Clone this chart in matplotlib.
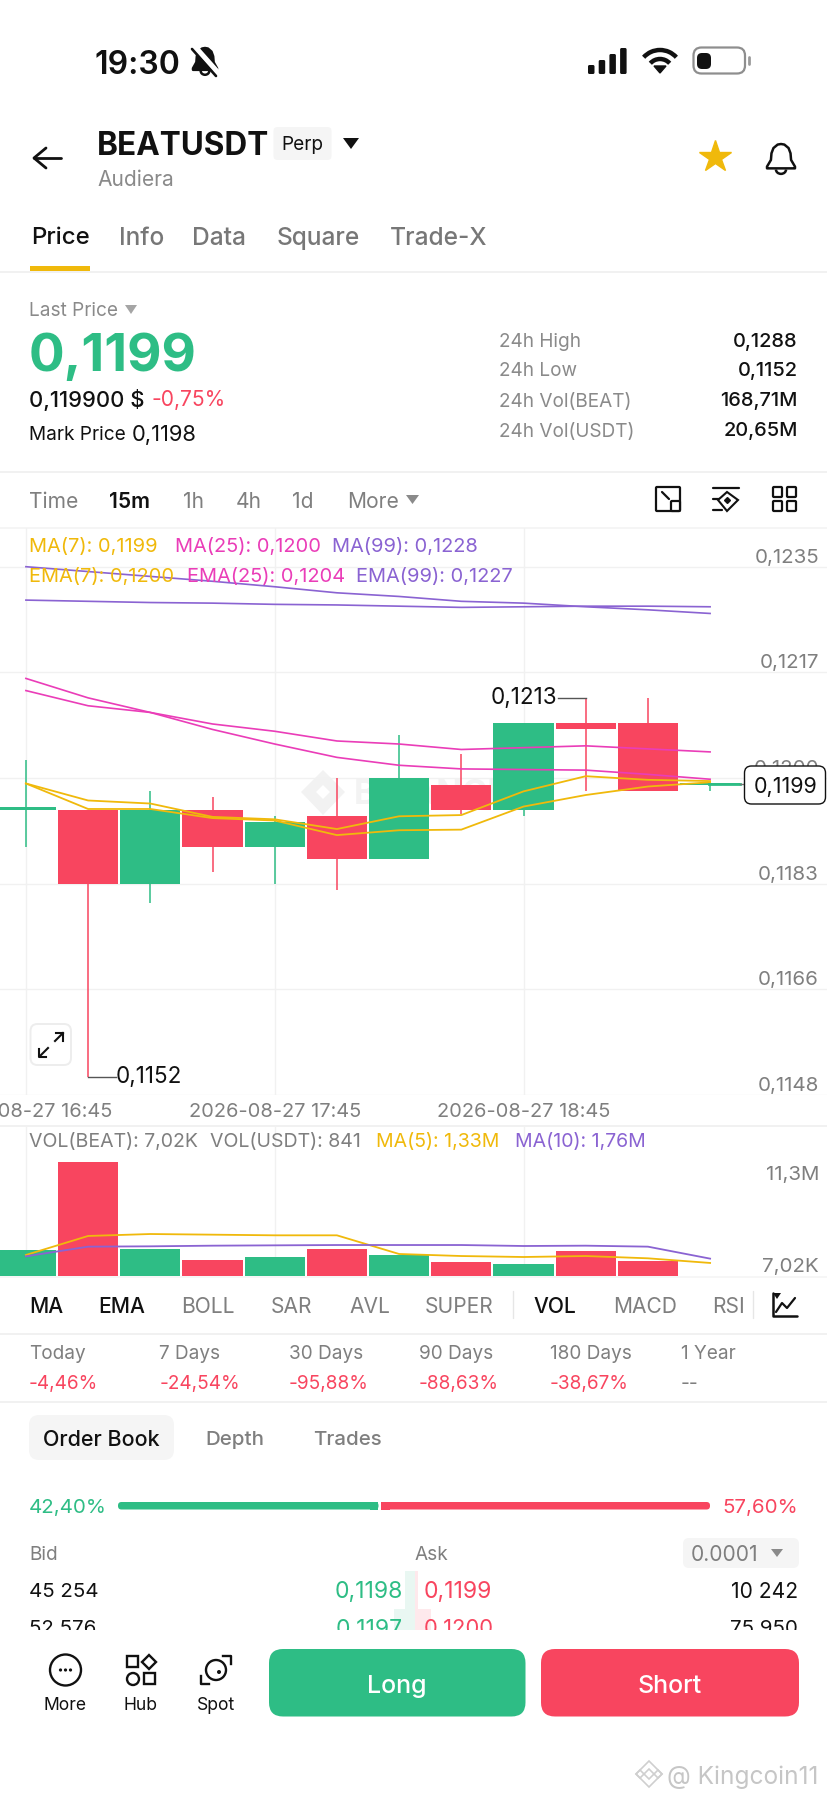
import numpy as np
import matplotlib
matplotlib.use('Agg')
import matplotlib.pyplot as plt
from matplotlib.patches import FancyBboxPatch, Polygon, Circle, Arc, Rectangle

plt.rcParams['font.family'] = ['Inter', 'Noto Sans', 'DejaVu Sans']

GREEN = '#2EBD85'
RED = '#F8455F'
YELLOW = '#F0B90B'
PINK = '#EA3DB8'
PURPLE = '#8A63D2'
GRAY = '#7F7F7F'
DARK = '#111111'
LINE = '#EFEFEF'

# candles
opens = [0.11950, 0.11950, 0.11828, 0.11950, 0.11888, 0.11940, 0.11868, 0.11991, 0.11950, 0.12093, 0.12093, 0.11990]
closes = [0.11954, 0.11828, 0.11950, 0.11888, 0.11929, 0.11868, 0.12002, 0.11950, 0.12093, 0.12083, 0.11981, 0.11994]
highs = [0.12031, 0.11950, 0.11981, 0.11970, 0.11940, 0.12002, 0.12073, 0.12041, 0.12093, 0.12134, 0.12134, 0.11994]
lows = [0.11888, 0.11510, 0.11797, 0.11847, 0.11828, 0.11817, 0.11868, 0.11942, 0.11940, 0.11981, 0.11981, 0.11981]

# overlay lines on the price panel
ma99 = [0.12350, 0.12342, 0.12334, 0.12326, 0.12317, 0.12307, 0.12301, 0.12293, 0.12290, 0.12284, 0.12279, 0.12273]
ema99 = [0.12295, 0.12293, 0.12291, 0.12290, 0.12288, 0.12287, 0.12285, 0.12283, 0.12284, 0.12285, 0.12285, 0.12284]
ema25 = [0.12146, 0.12121, 0.12110, 0.12091, 0.12079, 0.12063, 0.12058, 0.12049, 0.12052, 0.12055, 0.12050, 0.12045]
ma25 = [0.12166, 0.12134, 0.12110, 0.12082, 0.12058, 0.12036, 0.12023, 0.12017, 0.12016, 0.12015, 0.12008, 0.12000]
ema7 = [0.11993, 0.11965, 0.11960, 0.11938, 0.11934, 0.11918, 0.11939, 0.11941, 0.11980, 0.12005, 0.11999, 0.11997]
ma7 = [0.11993, 0.11951, 0.11951, 0.11936, 0.11932, 0.11908, 0.11916, 0.11917, 0.11955, 0.11974, 0.11988, 0.11995]

# volume, in millions
volumes = [3.20, 14.0, 3.36, 1.92, 2.29, 3.27, 2.62, 1.72, 1.51, 3.07, 1.80, 0.007]
vol_ma5 = [2.58, 4.91, 5.15, 5.07, 4.99, 4.99, 2.70, 2.45, 2.33, 2.45, 2.17, 1.60]
vol_ma10 = [2.41, 3.60, 3.64, 3.72, 3.76, 3.80, 3.80, 3.80, 3.68, 3.72, 3.60, 2.13]

price_ticks = [0.1235, 0.12176, 0.12002, 0.11828, 0.11654, 0.1148]
price_labels = ['0,1235', '0,1217', '0,1200', '0,1183', '0,1166', '0,1148']
date_ticks = [0, 4, 8]
date_labels = ['2026-08-27 16:45', '2026-08-27 17:45', '2026-08-27 18:45']
vol_ticks = [0.007, 11.3]
vol_labels = ['7,02K', '11,3M']

period_names = ['Today', '7 Days', '30 Days', '90 Days', '180 Days', '1 Year']
period_values = ['-4,46%', '-24,54%', '-95,88%', '-88,63%', '-38,67%', '--']

W, H = 828, 1800
fig = plt.figure(figsize=(W / 100, H / 100), dpi=100, facecolor='white')
ui = fig.add_axes([0, 0, 1, 1], zorder=1)
ui.set_xlim(0, W)
ui.set_ylim(H, 0)
ui.axis('off')


def px_axes(x0, y0, x1, y1, z):
    a = fig.add_axes([x0 / W, 1 - y1 / H, (x1 - x0) / W, (y1 - y0) / H], zorder=z)
    a.patch.set_alpha(0)
    return a


def T(x, y, s, size=19, color=DARK, weight='normal', ha='left', ax=None, z=5):
    # size is in pixels
    return (ax or ui).text(x, y, s, fontsize=size * 0.72, color=color, fontweight=weight,
                           ha=ha, va='center_baseline', zorder=z)


def rr(x0, y0, x1, y1, r, fc='none', ec='none', lw=1.0, z=2):
    ui.add_patch(FancyBboxPatch((x0, y0), x1 - x0, y1 - y0, boxstyle=f'round,pad=0,rounding_size={r}',
                                fc=fc, ec=ec, lw=lw, zorder=z))


def tri(x0, x1, y0, y1, color):
    ui.add_patch(Polygon([(x0, y0), (x1, y0), ((x0 + x1) / 2, y1)], fc=color, ec='none', zorder=4, joinstyle='round'))


def sep(y, color=LINE):
    ui.plot([0, W], [y, y], color=color, lw=1.2, zorder=1)


def seg(xs, ys, lw=1.6, color=DARK, z=4):
    ui.plot(xs, ys, color=color, lw=lw, solid_capstyle='round', zorder=z)


def bell(cx, y0, y1, w, fill):
    h = y1 - y0
    half = [(0.0, 0.0), (0.12, 0.02), (0.27, 0.14), (0.34, 0.32), (0.36, 0.55), (0.5, 0.78), (0.5, 0.84)]
    pts = [(cx + a * w, y0 + b * h) for a, b in half] + [(cx - a * w, y0 + b * h) for a, b in half[::-1]]
    ui.add_patch(Polygon(pts, closed=True, fc=DARK if fill else 'white', ec=DARK, lw=1.8, zorder=4, joinstyle='round'))
    ui.add_patch(Arc((cx, y0 + 0.88 * h), 0.36 * w, 0.3 * h, theta1=0, theta2=180, color=DARK, lw=1.8, zorder=4))


# status bar
T(95, 62, '19:30', 32, DARK, 600)
bell(205, 48, 74, 24, True)
seg([195, 219], [47, 74], 4.0, 'white', z=4.5)
seg([192, 216], [49, 76], 1.9, DARK, z=4.6)
for i, top in enumerate([65, 60, 54, 48]):
    ui.add_patch(FancyBboxPatch((588 + i * 10.7, top), 6.5, 74 - top, boxstyle='round,pad=0,rounding_size=1.5',
                                fc=DARK, ec='none', zorder=4))
for r in (13, 22):
    ui.add_patch(Arc((660, 72), 2 * r, 2 * r, theta1=222, theta2=318, color=DARK, lw=3.2, zorder=4))
ui.add_patch(Polygon([(654, 66), (666, 66), (660, 73)], fc=DARK, ec=DARK, lw=1, zorder=4))
rr(693.5, 47.5, 745, 73.5, 8, fc='white', ec='#8E8E8E', lw=1.6)
rr(697, 53, 711, 69, 5, fc=DARK)
seg([749, 749], [57, 64], 2, '#9A9A9A')

# header
seg([34, 61], [158, 158], 2.0)
seg([46, 34, 46], [148, 158, 168], 2.0)
T(97, 143, 'BEATUSDT', 31.5, DARK, 700)
rr(273.5, 127, 331.5, 160, 4, fc='#F5F5F5')
T(302, 143, 'Perp', 19, DARK, 'normal', ha='center')
tri(343, 359, 138, 149, DARK)
T(97, 178, 'Audiera', 21, '#8A8A8A')
ui.plot([715], [157], marker='*', ms=24, color=YELLOW, mec=YELLOW, zorder=4)
bell(781, 144, 173, 28, False)

# tabs
T(31, 236, 'Price', 24, DARK, 500)
for x, s in zip([119, 192, 277, 390], ['Info', 'Data', 'Square', 'Trade-X']):
    T(x, 236, s, 24.5, '#777777', 500)
ui.add_patch(Rectangle((30, 266), 60, 4.5, fc=YELLOW, ec='none', zorder=3))
sep(271.5)

# price block
T(29, 309, 'Last Price', 19, '#8A8A8A')
tri(125, 137, 305, 314, '#A5A5A5')
T(29, 352, '0,1199', 53, GREEN, 700)
T(29, 398, '0,119900 $', 22, DARK, 500)
T(152, 398, '-0,75%', 21, RED)
T(29, 433, 'Mark Price', 19, DARK)
T(132, 433, '0,1198', 22, DARK)
stat_names = ['24h High', '24h Low', '24h Vol(BEAT)', '24h Vol(USDT)']
stat_values = ['0,1288', '0,1152', '168,71M', '20,65M']
for y, a, b in zip([340, 369.5, 399.5, 429.5], stat_names, stat_values):
    T(499, y, a, 19, '#8A8A8A')
    T(798, y, b, 20, DARK, 500, ha='right')
sep(471.5)

# timeframe row
T(29, 500, 'Time', 21, GRAY)
T(109, 500, '15m', 21, DARK, 600)
T(183, 500, '1h', 21, GRAY)
T(236, 500, '4h', 21, GRAY)
T(292, 500, '1d', 21, GRAY)
T(347, 500, 'More', 21, GRAY)
tri(406, 419, 495, 504, '#8A8A8A')
rr(656, 487, 680, 511, 1, ec=DARK, lw=1.6)
rr(671, 501, 680, 511, 1, fc='white', ec=DARK, lw=1.6, z=3)
seg([662, 669], [492, 499], 1.6)
seg([713, 739], [488, 488], 1.6)
seg([713, 722], [499, 499], 1.6)
seg([713, 722], [510, 510], 1.6)
ui.add_patch(Polygon([(727, 492), (738, 500), (727, 511), (718, 500)], fc='white', ec=DARK, lw=1.5, zorder=4))
ui.plot([727], [500], marker='D', ms=3, color=DARK, zorder=5)
for x in (773, 787):
    for y in (487, 501):
        rr(x, y, x + 9, y + 10, 1, ec=DARK, lw=1.6)
sep(527.5, '#F3F3F3')

# faint exchange logo behind the candles
ui.add_patch(Polygon([(323, 770), (345, 792), (323, 815), (301, 792)], fc='#F2F2F2', ec='none', zorder=1))
ui.add_patch(Polygon([(323, 785), (330, 792), (323, 799), (316, 792)], fc='white', ec='none', zorder=1))
T(354, 792, 'BINANCE', 34, '#F3F3F3', 700, z=1)

# price panel
ax = px_axes(0, 528, W, 1095, 2)
x_pos = np.arange(len(opens))
ax.set_xlim(-25.9 / 62.2, (W - 25.9) / 62.2)
ax.set_ylim(0.1148, 0.1235 + 38.7 / 60724)
for sp in ax.spines.values():
    sp.set_visible(False)
ax.set_yticks(price_ticks, price_labels)
ax.yaxis.tick_right()
ax.tick_params(axis='y', length=0, pad=-6.5, labelsize=20.5 * 0.72, labelcolor=GRAY)
for lab in ax.get_yticklabels():
    lab.set_ha('right')
    lab.set_va('bottom')
ax.set_xticks(date_ticks, date_labels)
ax.tick_params(axis='x', length=0, pad=5.5, labelsize=20 * 0.72, labelcolor=GRAY)
ax.grid(True, axis='both', color='#F1F1F1', lw=1.0, zorder=0)
ax.set_axisbelow(True)
colors = [GREEN if c >= o else RED for o, c in zip(opens, closes)]
ax.vlines(x_pos, lows, highs, colors=colors, lw=1.1, zorder=2)
ax.bar(x_pos, np.array(closes) - np.array(opens), bottom=opens, width=0.97, color=colors, zorder=3)
ax.plot(x_pos, ma99, color=PURPLE, lw=1.2, zorder=4)
ax.plot(x_pos, ema99, color=PURPLE, lw=1.2, zorder=4)
ax.plot(x_pos, ema25, color=PINK, lw=1.2, zorder=4)
ax.plot(x_pos, ma25, color=PINK, lw=1.2, zorder=4)
ax.plot(x_pos, ema7, color=YELLOW, lw=1.3, zorder=4)
ax.plot(x_pos, ma7, color=YELLOW, lw=1.3, zorder=4)
ax.plot([9, 8.55], [highs[9], highs[9]], color='#555555', lw=1.0, zorder=4)
ax.plot([1, 1.45], [lows[1], lows[1]], color='#555555', lw=1.0, zorder=4)
ax.annotate('0,1213', (8.55, highs[9]), ha='right', va='center', fontsize=22.5 * 0.72, color=DARK, zorder=5)
ax.annotate('0,1152', (1.45, lows[1]), ha='left', va='center', fontsize=22.5 * 0.72, color=DARK, zorder=5)

# indicator legends, above the panel
top = fig.add_axes([0, 0, 1, 1], zorder=4)
top.set_xlim(0, W)
top.set_ylim(H, 0)
top.axis('off')
for x, y, s, c in [(29, 545, 'MA(7): 0,1199', YELLOW), (175, 545, 'MA(25): 0,1200', PINK),
                   (332.5, 545, 'MA(99): 0,1228', PURPLE), (29, 575, 'EMA(7): 0,1200', YELLOW),
                   (187, 575, 'EMA(25): 0,1204', PINK), (356, 575, 'EMA(99): 0,1227', PURPLE)]:
    T(x, y, s, 20, c, ax=top)
top.plot([708.6, 740], [784, 784], color=GREEN, lw=2, zorder=3)
top.plot([740, 745], [784, 784], color='#777777', lw=1, zorder=3)
top.add_patch(FancyBboxPatch((744.5, 766), 81, 38, boxstyle='round,pad=0,rounding_size=7',
                             fc='white', ec=DARK, lw=1, zorder=4))
T(818, 785, '0,1199', 21.5, DARK, ha='right', ax=top)
top.add_patch(FancyBboxPatch((30.5, 1024), 40.5, 41, boxstyle='round,pad=0,rounding_size=7',
                             fc='white', ec='#EDEDED', lw=1.4, zorder=4))
top.plot([40, 48], [1056, 1048], color=DARK, lw=1.5, zorder=5)
top.plot([39, 39, 46], [1049, 1057, 1057], color=DARK, lw=1.5, zorder=5)
top.plot([55, 63], [1041, 1033], color=DARK, lw=1.5, zorder=5)
top.plot([56, 63.5, 63.5], [1033, 1033, 1041], color=DARK, lw=1.5, zorder=5)

sep(1125.5)

# volume panel
vx = px_axes(0, 1126, W, 1276, 2)
vx.set_xlim(-25.9 / 62.2, (W - 25.9) / 62.2)
vx.set_ylim(0, 18.4)
for sp in vx.spines.values():
    sp.set_visible(False)
vx.set_xticks(date_ticks, [''] * 3)
vx.set_yticks(vol_ticks, vol_labels)
vx.yaxis.tick_right()
vx.tick_params(axis='both', length=0)
vx.tick_params(axis='y', pad=-6.5, labelsize=20.5 * 0.72, labelcolor=GRAY)
for lab in vx.get_yticklabels():
    lab.set_ha('right')
    lab.set_va('bottom')
vx.grid(True, axis='x', color='#F1F1F1', lw=1.0)
vx.set_axisbelow(True)
vx.bar(x_pos, volumes, width=0.97, color=colors, zorder=3)
vx.plot(x_pos, vol_ma5, color=YELLOW, lw=1.3, zorder=4)
vx.plot(x_pos, vol_ma10, color=PURPLE, lw=1.3, zorder=4)

for x, s, c in [(29, 'VOL(BEAT): 7,02K', GRAY), (210, 'VOL(USDT): 841', GRAY),
                (376.5, 'MA(5): 1,33M', YELLOW), (515, 'MA(10): 1,76M', PURPLE)]:
    T(x, 1140, s, 19.5, c, ax=top)
sep(1276.5, '#F5F5F5')

# indicator switches
for x, s, on in [(29, 'MA', 1), (98.7, 'EMA', 1), (181, 'BOLL', 0), (271, 'SAR', 0), (349.5, 'AVL', 0),
                 (425, 'SUPER', 0), (533, 'VOL', 1), (613, 'MACD', 0), (712, 'RSI', 0)]:
    T(x, 1305, s, 21, DARK if on else GRAY, 500 if on else 'normal')
seg([513, 513], [1291, 1318], 1, '#E6E6E6')
seg([753.5, 753.5], [1291, 1318], 1, '#E6E6E6')
seg([773, 773, 797], [1293, 1316, 1316], 1.8)
seg([776, 782, 787, 795], [1312, 1303, 1308, 1298], 1.6)
tri(773, 781, 1293, 1299, DARK)
sep(1333.5)

# performance row
for x, a, b in zip([29, 159.5, 289, 419, 550, 680.6], period_names, period_values):
    T(x, 1352, a, 19, GRAY)
    T(x, 1382, b, 19, GRAY if b == '--' else RED)
sep(1402)

# order book
rr(29, 1415, 174, 1460, 10, fc='#F5F5F5')
T(43, 1438, 'Order Book', 21.5, DARK, 500)
T(205, 1438, 'Depth', 20.5, GRAY, 500)
T(313, 1438, 'Trades', 20.5, GRAY, 500)
T(29, 1506, '42,40%', 20.5, GREEN)
T(798, 1506, '57,60%', 20.5, RED, ha='right')
rr(118, 1502, 378.5, 1509.5, 3.5, fc=GREEN)
rr(381.5, 1502, 710, 1509.5, 3.5, fc=RED)
ui.add_patch(Rectangle((370, 1502), 8.5, 7.5, fc=GREEN, ec='none', zorder=2))
ui.add_patch(Rectangle((381.5, 1502), 8.5, 7.5, fc=RED, ec='none', zorder=2))
T(29, 1553, 'Bid', 19, GRAY)
T(414.5, 1553, 'Ask', 19, GRAY)
rr(683, 1538, 799, 1568, 6, fc='#F5F5F5')
T(690.5, 1553, '0.0001', 21, GRAY)
tri(771, 783, 1549, 1557, '#8A8A8A')
ui.add_patch(Rectangle((405, 1571), 10.5, 38, fc='#E9F7F2', ec='none', zorder=1))
ui.add_patch(Rectangle((394, 1609), 21.5, 25, fc='#E9F7F2', ec='none', zorder=1))
ui.add_patch(Rectangle((415.5, 1571), 2.5, 38, fc='#FEE9EC', ec='none', zorder=1))
ui.add_patch(Rectangle((415.5, 1609), 15.5, 25, fc='#FEE9EC', ec='none', zorder=1))
T(29, 1590, '45 254', 20.5, DARK)
T(403, 1590, '0,1198', 23, GREEN, ha='right')
T(423.5, 1590, '0,1199', 23, RED)
T(798, 1590, '10 242', 21, DARK, ha='right')
T(29, 1627, '52 576', 20.5, DARK)
T(403, 1627, '0,1197', 23, GREEN, ha='right')
T(423.5, 1627, '0,1200', 22, RED)
T(798, 1627, '75 950', 20.5, DARK, ha='right')
ui.add_patch(Rectangle((0, 1630), W, 170, fc='white', ec='none', zorder=6))

# bottom bar
ui.add_patch(Circle((65.5, 1670), 15.5, fc='white', ec=DARK, lw=1.7, zorder=7))
for dx in (-5, 0, 5):
    ui.add_patch(Circle((65.5 + dx, 1670), 1.6, fc=DARK, ec='none', zorder=8))
for patch in [Rectangle((127, 1656), 11, 11, fc='none', ec=DARK, lw=1.7, zorder=7),
              Polygon([(149, 1655), (156, 1662), (149, 1669), (142, 1662)], fc='none', ec=DARK, lw=1.7, zorder=7),
              Circle((133, 1679), 6, fc='none', ec=DARK, lw=1.7, zorder=7),
              Rectangle((144, 1673), 11, 11, fc='none', ec=DARK, lw=1.7, zorder=7),
              Circle((216, 1670), 10, fc='none', ec=DARK, lw=1.7, zorder=7),
              Circle((219, 1672), 2, fc=DARK, ec='none', zorder=7)]:
    ui.add_patch(patch)
for xs, ys in [([201, 201, 209], [1676, 1684, 1684]), ([223, 231, 231], [1656, 1656, 1664])]:
    ui.plot(xs, ys, color=DARK, lw=1.7, zorder=7)
for x, s in zip([65.5, 141, 216], ['More', 'Hub', 'Spot']):
    T(x, 1704, s, 17.5, DARK, ha='center', z=8)
rr(269, 1649, 525.5, 1716.5, 14, fc=GREEN, z=7)
rr(541, 1649, 799, 1716.5, 14, fc=RED, z=7)
T(397, 1684, 'Long', 25, 'white', 500, ha='center', z=8)
T(670, 1684, 'Short', 25, 'white', 500, ha='center', z=8)

# image watermark
for cx, cy, r in [(649, 1774, 13), (649, 1774, 5), (640, 1774, 4), (658, 1774, 4)]:
    ui.add_patch(Polygon([(cx, cy - r), (cx + r, cy), (cx, cy + r), (cx - r, cy)], fc='none', ec='#CFCFCF',
                         lw=1.2, zorder=7))
T(667, 1775, '@ Kingcoin11', 24.5, '#C6C6C6', z=8)

fig.savefig('out.png', dpi=100)
